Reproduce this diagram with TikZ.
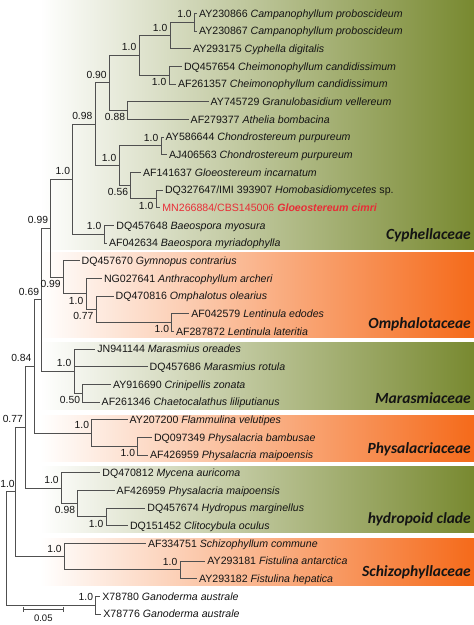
\documentclass[tikz,border=0pt]{standalone}
\usepackage{fontspec}
\setmainfont{Liberation Sans}
\newfontfamily\famfont{Carlito}
\definecolor{olivec}{RGB}{120,137,48}
\definecolor{gmid}{RGB}{214,219,200}
\definecolor{orng}{RGB}{245,106,26}
\definecolor{omid}{RGB}{250,180,156}
\definecolor{lc}{RGB}{80,80,80}
\definecolor{redt}{RGB}{232,45,55}
\definecolor{txt}{RGB}{20,20,20}
\begin{document}
\begin{tikzpicture}[x=1pt,y=-1pt,
  leaf/.style={anchor=west, inner xsep=2pt, inner ysep=0pt, text height=7.5pt, text depth=0pt, font=\fontsize{10.6}{11}\selectfont, text=txt},
  supa/.style={anchor=south east, inner sep=0pt, xshift=-2.5pt, yshift=4.2pt, text height=7.5pt, text depth=0pt, font=\fontsize{10.3}{11}\selectfont, text=txt},
  supb/.style={anchor=north east, inner sep=0pt, xshift=-2.5pt, yshift=-2.5pt, text height=7.5pt, text depth=0pt, font=\fontsize{10.3}{11}\selectfont, text=txt},
  br/.style={draw=lc, line width=0.9pt},
  fam/.style={anchor=east, inner sep=0pt, font=\famfont\bfseries\itshape\fontsize{15.5}{16}\selectfont, text=txt},
  gband/.style={left color=white, middle color=gmid, right color=olivec},
  oband/.style={left color=white, middle color=omid, right color=orng}
]
\useasboundingbox (0,0) rectangle (474,625);
% bands
\shade[gband] (40,0) rectangle (474,249);
\shade[oband] (40,252.7) rectangle (474,337.3);
\shade[gband] (40,342.7) rectangle (474,409.3);
\shade[oband] (40,415) rectangle (474,461.7);
\shade[gband] (40,466.7) rectangle (474,532.7);
\shade[oband] (40,538.3) rectangle (474,585);
% family labels
\node[fam] (f1) at (471,235.4) {Cyphellaceae};
\node[fam] (f2) at (471,324.2) {Omphalotaceae};
\node[fam] (f3) at (471,397.8) {Marasmiaceae};
\node[fam] (f4) at (471,448.8) {Physalacriaceae};
\node[fam] (f5) at (471,518.8) {hydropoid clade};
\node[fam] (f6) at (471,571.8) {Schizophyllaceae};
% leaves
\node[leaf] (l1) at (196.8,13.3) {AY230866 \textit{Campanophyllum proboscideum}};
\node[leaf] (l2) at (196.8,31.0) {AY230867 \textit{Campanophyllum proboscideum}};
\node[leaf] (l3) at (190.8,48.6) {AY293175 \textit{Cyphella digitalis}};
\node[leaf] (l4) at (181.8,66.3) {DQ457654 \textit{Cheimonophyllum candidissimum}};
\node[leaf] (l5) at (175.8,84.0) {AF261357 \textit{Cheimonophyllum candidissimum}};
\node[leaf] (l6) at (208.5,101.7) {AY745729 \textit{Granulobasidium vellereum}};
\node[leaf] (l7) at (188.5,119.3) {AF279377 \textit{Athelia bombacina}};
\node[leaf] (l8) at (163.5,137.0) {AY586644 \textit{Chondrostereum purpureum}};
\node[leaf] (l9) at (166.8,154.7) {AJ406563 \textit{Chondrostereum purpureum}};
\node[leaf] (l10) at (140.8,172.3) {AF141637 \textit{Gloeostereum incarnatum}};
\node[leaf] (l11) at (162.8,190.0) {DQ327647/IMI 393907 \textit{Homobasidiomycetes} sp.};
\node[leaf,text=redt] (l12) at (160.2,207.7) {MN266884/CBS145006 \textbf{\textit{Gloeostereum cimri}}};
\node[leaf] (l13) at (114.2,225.3) {DQ457648 \textit{Baeospora myosura}};
\node[leaf] (l14) at (106.8,243.0) {AF042634 \textit{Baeospora myriadophylla}};
\node[leaf] (l15) at (79.5,260.7) {DQ457670 \textit{Gymnopus contrarius}};
\node[leaf] (l16) at (101.8,278.4) {NG027641 \textit{Anthracophyllum archeri}};
\node[leaf] (l17) at (113.5,296.0) {DQ470816 \textit{Omphalotus olearius}};
\node[leaf] (l18) at (189.2,313.7) {AF042579 \textit{Lentinula edodes}};
\node[leaf] (l19) at (173.8,331.4) {AF287872 \textit{Lentinula lateritia}};
\node[leaf] (l20) at (95.2,349.0) {JN941144 \textit{Marasmius oreades}};
\node[leaf] (l21) at (147.5,366.7) {DQ457686 \textit{Marasmius rotula}};
\node[leaf] (l22) at (110.8,384.4) {AY916690 \textit{Crinipellis zonata}};
\node[leaf] (l23) at (99.5,402.0) {AF261346 \textit{Chaetocalathus liliputianus}};
\node[leaf] (l24) at (127.5,419.7) {AY207200 \textit{Flammulina velutipes}};
\node[leaf] (l25) at (151.8,437.4) {DQ097349 \textit{Physalacria bambusae}};
\node[leaf] (l26) at (147.8,455.0) {AF426959 \textit{Physalacria maipoensis}};
\node[leaf] (l27) at (100.2,472.7) {DQ470812 \textit{Mycena auricoma}};
\node[leaf] (l28) at (114.5,490.4) {AF426959 \textit{Physalacria maipoensis}};
\node[leaf] (l29) at (145.2,508.0) {DQ457674 \textit{Hydropus marginellus}};
\node[leaf] (l30) at (127.8,525.7) {DQ151452 \textit{Clitocybula oculus}};
\node[leaf] (l31) at (145.8,543.4) {AF334751 \textit{Schizophyllum commune}};
\node[leaf] (l32) at (205.2,561.0) {AY293181 \textit{Fistulina antarctica}};
\node[leaf] (l33) at (196.8,578.7) {AY293182 \textit{Fistulina hepatica}};
\node[leaf] (l34) at (100.2,596.4) {X78780 \textit{Ganoderma australe}};
\node[leaf] (l35) at (101.2,614.0) {X78776 \textit{Ganoderma australe}};
% internal nodes
\coordinate (n12) at (194.3,22.2);
\coordinate (nA) at (170,35.4);
\coordinate (nCh) at (169,75.2);
\coordinate (nB) at (139,55.3);
\coordinate (nGA) at (127.7,110.5);
\coordinate (nC) at (109.3,82.9);
\coordinate (nChon) at (161,145.8);
\coordinate (nDM) at (156,198.8);
\coordinate (nGl) at (130.7,185.6);
\coordinate (nCG) at (119,165.7);
\coordinate (nD) at (95,124.3);
\coordinate (nBa) at (104,234.2);
\coordinate (nE) at (72.7,179.3);
\coordinate (nLe) at (171.7,322.5);
\coordinate (nOL) at (96,309.3);
\coordinate (nAOL) at (86,293.8);
\coordinate (nGy) at (63.3,277.2);
\coordinate (nF) at (50.7,228.3);
\coordinate (nCC) at (82.7,393.2);
\coordinate (nMa) at (74,371.1);
\coordinate (nG) at (41.7,299.7);
\coordinate (nPb) at (137.7,446.2);
\coordinate (nPh) at (91.7,433);
\coordinate (nH) at (34,366.3);
\coordinate (nHd) at (106,516.9);
\coordinate (nHe) at (77.7,503.6);
\coordinate (nHy) at (61.3,488.2);
\coordinate (nI) at (25.5,427.2);
\coordinate (nFi) at (180,569.9);
\coordinate (nSc) at (64.3,556.6);
\coordinate (nJ) at (15.3,491.9);
\coordinate (nGa) at (95.7,605.2);
\coordinate (root) at (6,548.6);
% branches
\draw[br] (n12) |- (l1.west) (n12) |- (l2.west);
\draw[br] (nA) |- (n12) (nA) |- (l3.west);
\draw[br] (nCh) |- (l4.west) (nCh) |- (l5.west);
\draw[br] (nB) |- (nA) (nB) |- (nCh);
\draw[br] (nGA) |- (l6.west) (nGA) |- (l7.west);
\draw[br] (nC) |- (nB) (nC) |- (nGA);
\draw[br] (nChon) |- (l8.west) (nChon) |- (l9.west);
\draw[br] (nDM) |- (l11.west) (nDM) |- (l12.west);
\draw[br] (nGl) |- (l10.west) (nGl) |- (nDM);
\draw[br] (nCG) |- (nChon) (nCG) |- (nGl);
\draw[br] (nD) |- (nC) (nD) |- (nCG);
\draw[br] (nBa) |- (l13.west) (nBa) |- (l14.west);
\draw[br] (nE) |- (nD) (nE) |- (nBa);
\draw[br] (nLe) |- (l18.west) (nLe) |- (l19.west);
\draw[br] (nOL) |- (l17.west) (nOL) |- (nLe);
\draw[br] (nAOL) |- (l16.west) (nAOL) |- (nOL);
\draw[br] (nGy) |- (l15.west) (nGy) |- (nAOL);
\draw[br] (nF) |- (nE) (nF) |- (nGy);
\draw[br] (nCC) |- (l22.west) (nCC) |- (l23.west);
\draw[br] (nMa) |- (l20.west) (nMa) |- (l21.west) (nMa) |- (nCC);
\draw[br] (nG) |- (nF) (nG) |- (nMa);
\draw[br] (nPb) |- (l25.west) (nPb) |- (l26.west);
\draw[br] (nPh) |- (l24.west) (nPh) |- (nPb);
\draw[br] (nH) |- (nG) (nH) |- (nPh);
\draw[br] (nHd) |- (l29.west) (nHd) |- (l30.west);
\draw[br] (nHe) |- (l28.west) (nHe) |- (nHd);
\draw[br] (nHy) |- (l27.west) (nHy) |- (nHe);
\draw[br] (nI) |- (nH) (nI) |- (nHy);
\draw[br] (nFi) |- (l32.west) (nFi) |- (l33.west);
\draw[br] (nSc) |- (l31.west) (nSc) |- (nFi);
\draw[br] (nJ) |- (nI) (nJ) |- (nSc);
\draw[br] (nGa) |- (l34.west) (nGa) |- (l35.west);
\draw[br] (root) |- (nJ) (root) |- (nGa);
% support values
\node[supa] (s1) at (n12) {1.0};
\node[supa] (s2) at (nA) {1.0};
\node[supb] (s3) at (nCh) {1.0};
\node[supa] (s4) at (nB) {1.0};
\node[supb] (s5) at (nGA) {0.88};
\node[supa] (s6) at (nC) {0.90};
\node[supa] (s7) at (nChon) {1.0};
\node[supb] (s8) at (nDM) {1.0};
\node[supb] (s9) at (nGl) {0.56};
\node[supa] (s10) at (nCG) {1.0};
\node[supa] (s11) at (nD) {0.98};
\node[supa] (s12) at (nBa) {1.0};
\node[supa] (s13) at (nE) {1.0};
\node[supb] (s14) at (nLe) {1.0};
\node[supb] (s15) at (nOL) {0.77};
\node[supb] (s16) at (nAOL) {1.0};
\node[supb] (s17) at (nGy) {0.99};
\node[supa] (s18) at (nF) {0.99};
\node[supb] (s19) at (nCC) {0.50};
\node[supa] (s20) at (nMa) {1.0};
\node[supa] (s21) at (nG) {0.69};
\node[supb] (s22) at (nPb) {1.0};
\node[supa] (s23) at (nPh) {1.0};
\node[supa] (s24) at (nH) {0.84};
\node[supb] (s25) at (nHd) {1.0};
\node[supb] (s26) at (nHe) {0.98};
\node[supa] (s27) at (nHy) {1.0};
\node[supa] (s28) at (nI) {0.77};
\node[supa] (s29) at (nFi) {1.0};
\node[supa] (s30) at (nSc) {1.0};
\node[supa,xshift=2pt] (s31) at (nJ) {1.0};
\node[supa] (s32) at (nGa) {1.0};
% scale bar
\coordinate (sb1) at (23.3,609.5);
\coordinate (sb2) at (63.3,609.5);
\draw[br] (sb1) -- (sb2);
\draw[br] ([yshift=2.2pt]sb1) -- ([yshift=-2.2pt]sb1);
\draw[br] ([yshift=2.2pt]sb2) -- ([yshift=-2.2pt]sb2);
\node[anchor=north, inner sep=0pt, font=\fontsize{9.5}{10}\selectfont, text=txt] (sbl) at (43.3,615) {0.05};
\end{tikzpicture}
\end{document}
